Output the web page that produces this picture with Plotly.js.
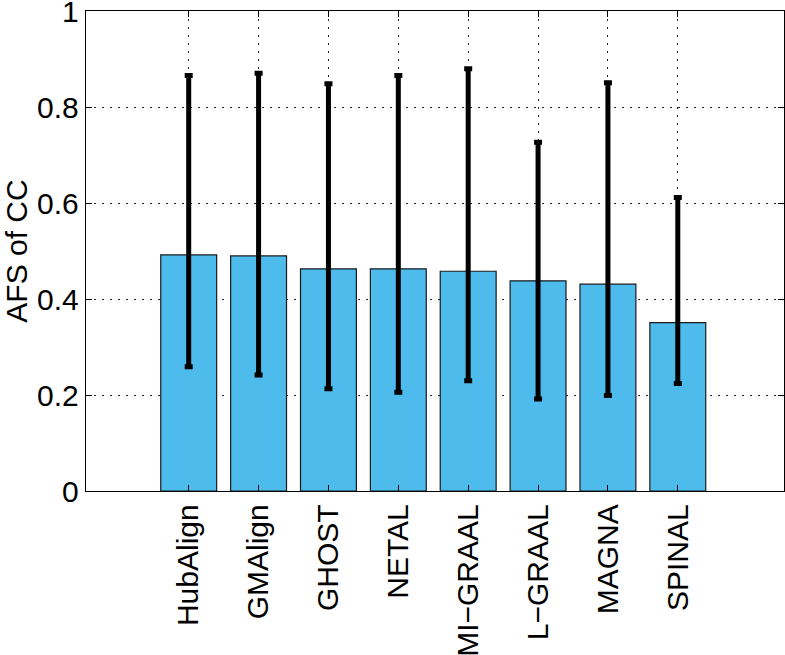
<!DOCTYPE html>
<html>
<head>
<meta charset="utf-8">
<script src="https://cdn.plot.ly/plotly-3.0.1.min.js"></script>
<style>
  html, body { margin: 0; padding: 0; background: white; }
  #chart { width: 785px; height: 655px; }
</style>
</head>
<body>
<div id="chart"></div>
<script>
// aligners and their mean AFS of CC, with the ends of each error bar
const METHODS   = [ 'HubAlign', 'GMAlign', 'GHOST', 'NETAL', 'MI\u2212GRAAL', 'L\u2212GRAAL', 'MAGNA', 'SPINAL' ];
const MEAN_AFS  = [ 0.492, 0.490, 0.463, 0.463, 0.458, 0.438, 0.431, 0.351 ];
const UPPER_AFS = [ 0.866, 0.871, 0.849, 0.866, 0.880, 0.727, 0.851, 0.612 ];
const LOWER_AFS = [ 0.259, 0.242, 0.213, 0.206, 0.230, 0.192, 0.199, 0.224 ];
const Y_TICKS   = [ 0, 0.2, 0.4, 0.6, 0.8, 1 ];

const FONT = 'Liberation Sans, Arial, Helvetica, sans-serif';

const err_plus  = UPPER_AFS.map( ( u, i ) => u - MEAN_AFS[ i ] );
const err_minus = LOWER_AFS.map( ( l, i ) => MEAN_AFS[ i ] - l );

const bars = {
	type  : 'bar',
	x     : METHODS,
	y     : MEAN_AFS,
	marker: { color: '#4dbbec', line: { color: '#1a1a1a', width: 1.2 } },
	error_y: {
		type      : 'data',
		symmetric : false,
		array     : err_plus,
		arrayminus: err_minus,
		color     : 'black',
		thickness : 5,
		width     : 4
	},
	hoverinfo: 'none'
};

const axis_common = {
	ticks     : 'inside',
	ticklen   : 6,
	tickcolor : 'black',
	showline  : true,
	linecolor : 'black',
	linewidth : 1.3,
	mirror    : 'ticks',
	showgrid  : true,
	gridcolor : '#222',
	gridwidth : 1,
	griddash  : '1.5px,6.5px',
	zeroline  : false
};

const layout = {
	width        : 785,
	height       : 655,
	margin       : { l: 86, r: 1, t: 11, b: 164 },
	paper_bgcolor: 'white',
	plot_bgcolor : 'white',
	showlegend   : false,
	bargap       : 0.2,
	font         : { family: FONT, color: 'black', size: 26 },
	xaxis: {
		...axis_common,
		type      : 'category',
		range     : [ -1.47, 8.52 ],
		tickangle : -90,
		tickfont  : { family: FONT, size: 30, color: 'black' }
	},
	yaxis: {
		...axis_common,
		range     : [ 0, 1.0005 ],
		tickvals  : Y_TICKS,
		ticktext  : Y_TICKS.map( String ),
		tickfont  : { family: FONT, size: 30, color: 'black' },
		title     : { text: 'AFS of CC', font: { family: FONT, size: 30, color: 'black' }, standoff: 12 }
	}
};

Plotly.newPlot( 'chart', [ bars ], layout, { displayModeBar: false, staticPlot: true } ).then( function() {
	// plotly hides the top label because it touches the page edge; show it anyway
	document.querySelectorAll( 'g.ytick text' ).forEach( function( t ) {
		t.style.display = '';
		t.style.opacity = 1;
	} );
} );
</script>
</body>
</html>
